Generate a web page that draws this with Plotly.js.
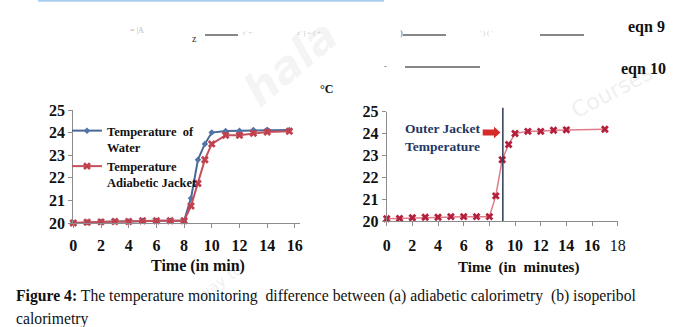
<!DOCTYPE html>
<html>
<head>
<meta charset="utf-8">
<script src="https://cdn.plot.ly/plotly-3.0.1.min.js"></script>
<style>
  html, body { margin: 0; padding: 0; background: #fff; }
  #fig { width: 679px; height: 327px; }
</style>
</head>
<body>
<div id="fig"></div>
<script>
/* Figure 4 — adiabatic (a) vs isoperibol (b) calorimetry temperature traces */

// (a) adiabatic calorimetry, time in min
const timeA = [0, 1, 2, 3, 4, 5, 6, 7, 8, 8.5, 9, 9.5, 10, 11, 12, 13, 14, 15.6];
const waterTemp = [20.0, 20.03, 20.05, 20.07, 20.07, 20.1, 20.1, 20.1, 20.1, 21.1, 22.8, 23.5, 24.0, 24.07, 24.08, 24.12, 24.13, 24.12];
const jacketTemp = [20.0, 20.03, 20.05, 20.07, 20.07, 20.1, 20.1, 20.1, 20.1, 20.75, 21.75, 22.8, 23.5, 23.88, 23.88, 23.97, 24.03, 24.06];

// (b) isoperibol calorimetry, time in minutes
const timeB = [0, 1, 2, 3, 4, 5, 6, 7, 8, 8.5, 9, 9.5, 10, 11, 12, 13, 14, 17];
const outerTemp = [20.1, 20.12, 20.15, 20.17, 20.17, 20.2, 20.2, 20.2, 20.2, 21.15, 22.8, 23.5, 24.0, 24.1, 24.1, 24.15, 24.17, 24.2];
const jacketSwitchTime = 9.05;

const ticksA = [0, 2, 4, 6, 8, 10, 12, 14, 16];
const ticksB = [0, 2, 4, 6, 8, 10, 12, 14, 16, 18];
const tickTextB = ["<b>0</b>", "<b>2</b>", "<b>4</b>", "<b>6</b>", "<b>8</b>", "<b>10</b>", "<b>12</b>", "<b>14</b>", "<b>16</b>", "18"];
const ticksY = [20, 21, 22, 23, 24, 25];

const W = 679, H = 327;
const px = v => v / W;          // pixel -> paper x
const py = v => 1 - v / H;      // pixel (from top) -> paper y
const SERIF = "'Liberation Serif', 'Times New Roman', serif";
const SANS = "'DejaVu Sans', sans-serif";
const AXCOL = "#8c8c8c";

const axisBase = {
  showline: true, linecolor: AXCOL, linewidth: 1,
  ticks: "outside", ticklen: 4, tickcolor: AXCOL,
  showgrid: false, zeroline: false, fixedrange: true,
  tickfont: { family: SERIF, size: 16, color: "#111", weight: "bold" },
};

const traces = [
  {
    x: timeA, y: waterTemp, xaxis: "x", yaxis: "y",
    type: "scatter", mode: "lines+markers", name: "Temperature  of<br>Water",
    line: { color: "#4a6894", width: 2 },
    marker: { symbol: "diamond", size: 5, color: "#4f74a8" },
    cliponaxis: false,
  },
  {
    x: timeA, y: jacketTemp, xaxis: "x", yaxis: "y",
    type: "scatter", mode: "lines+markers", name: "Temperature<br>Adiabetic Jacket",
    line: { color: "#c4505c", width: 2 },
    marker: { symbol: "x", size: 7, color: "#c0404e" },
    cliponaxis: false,
  },
  {
    x: timeB, y: outerTemp, xaxis: "x2", yaxis: "y2",
    type: "scatter", mode: "lines+markers", name: "Outer Jacket Temperature",
    showlegend: false,
    line: { color: "#e07c8a", width: 1.5 },
    marker: { symbol: "x", size: 7, color: "#b4203c" },
    cliponaxis: false,
  },
];

function txt(x, y, text, opt) {
  return Object.assign({
    xref: "paper", yref: "paper", x: px(x), y: py(y), text,
    showarrow: false, xanchor: "left", yanchor: "middle",
    font: { family: SERIF, size: 14, color: "#111" },
  }, opt || {});
}
function hline(x0, x1, y, col, w) {
  return { type: "line", xref: "paper", yref: "paper", x0: px(x0), x1: px(x1), y0: py(y), y1: py(y),
    line: { color: col || "#111", width: w || 1.2 } };
}

const arrow = [[482.7, 135.5], [482.7, 129.5], [494, 129.5], [494, 126.7], [500.5, 132.5], [494, 138.3], [494, 135.5]];
const arrowPath = "M" + arrow.map(p => px(p[0]).toFixed(5) + "," + py(p[1]).toFixed(5)).join(" L") + " Z";

const layout = {
  width: W, height: H,
  margin: { l: 0, r: 0, t: 0, b: 0 },
  paper_bgcolor: "#fff", plot_bgcolor: "rgba(0,0,0,0)",
  font: { family: SERIF, color: "#111" },
  xaxis: Object.assign({}, axisBase, { domain: [px(73.3), px(300.4)], range: [0, 16.4], anchor: "y",
    tickvals: ticksA, ticklabelstandoff: 4 }),
  yaxis: Object.assign({}, axisBase, { domain: [py(223), py(110)], range: [20, 25], anchor: "x",
    tickvals: ticksY }),
  xaxis2: Object.assign({}, axisBase, { domain: [px(386.7), px(617.7)], range: [0, 18], anchor: "y2",
    tickvals: ticksB, ticktext: tickTextB, ticklabelstandoff: 6,
    tickfont: { family: SERIF, size: 16, color: "#111" } }),
  yaxis2: Object.assign({}, axisBase, { domain: [py(221), py(111.7)], range: [20, 25], anchor: "x2",
    tickvals: ticksY }),
  showlegend: true,
  legend: {
    x: px(67), y: py(116), xanchor: "left", yanchor: "top",
    bgcolor: "rgba(0,0,0,0)", borderwidth: 0, itemwidth: 30, valign: "top",
    font: { family: SERIF, size: 12.5, color: "#111", weight: "bold" },
  },
  shapes: [
    hline(38, 384, 0.8, "#a9cdee", 2),
    hline(205, 238, 35), hline(403, 446, 35), hline(540, 584, 35),
    hline(405, 480, 67),
    { type: "line", xref: "x2", yref: "paper", x0: jacketSwitchTime, x1: jacketSwitchTime,
      y0: py(221), y1: py(107.7), line: { color: "#2c3a55", width: 1.5 } },
    { type: "path", xref: "paper", yref: "paper", path: arrowPath,
      fillcolor: "#d42a2a", line: { width: 0 } },
  ],
  annotations: [
    // faint watermark
    txt(290, 62, "hala", { xanchor: "center", textangle: -40,
      font: { family: SANS, size: 44, color: "rgba(170,170,170,0.13)", weight: "bold", style: "italic" } }),
    txt(612, 92, "Courses", { xanchor: "center", textangle: -28,
      font: { family: SANS, size: 22, color: "rgba(170,170,170,0.2)" } }),
    txt(220, 282, "way to", { xanchor: "center", textangle: -35,
      font: { family: SANS, size: 15, color: "rgba(170,170,170,0.2)" } }),
    // equation remnants
    txt(128, 30, "= |A", { font: { family: SERIF, size: 8, color: "#bbb" } }),
    txt(190, 39, "z", { font: { family: SERIF, size: 10, color: "#333" } }),
    txt(241, 33, "r' +", { font: { family: SERIF, size: 7, color: "#ccc" } }),
    txt(295, 33, "z' ] = ( +", { font: { family: SERIF, size: 7, color: "#ccc" } }),
    txt(398, 33, ")", { font: { family: SERIF, size: 8, color: "#555" } }),
    txt(478, 33, "' ) ( '", { font: { family: SERIF, size: 7, color: "#ccc" } }),
    txt(382, 66, "-", { font: { family: SERIF, size: 8, color: "#555" } }),
    txt(626, 27, "eqn 9", { font: { family: SERIF, size: 16, color: "#111", weight: "bold" } }),
    txt(619, 69, "eqn 10", { font: { family: SERIF, size: 16, color: "#111", weight: "bold" } }),
    txt(318, 89, "°C", { font: { family: SERIF, size: 12, color: "#111", weight: "bold" } }),
    // chart texts
    txt(403, 137.5, "Outer Jacket<br>Temperature", { align: "left",
      font: { family: SERIF, size: 13.5, color: "#1f3864", weight: "bold" } }),
    txt(198, 266, "Time (in min)", { xanchor: "center",
      font: { family: SERIF, size: 16, color: "#111", weight: "bold" } }),
    txt(518, 267, "Time  (in  minutes)", { xanchor: "center",
      font: { family: SERIF, size: 15, color: "#111", weight: "bold" } }),
    // caption
    txt(14, 296, "<b>Figure 4:</b> The temperature monitoring  difference between (a) adiabetic calorimetry  (b) isoperibol",
      { font: { family: SERIF, size: 15.7, color: "#111" } }),
    txt(14, 319, "calorimetry", { font: { family: SERIF, size: 15.7, color: "#111" } }),
  ],
};

Plotly.newPlot("fig", traces, layout, { displayModeBar: false, staticPlot: true });
</script>
</body>
</html>
